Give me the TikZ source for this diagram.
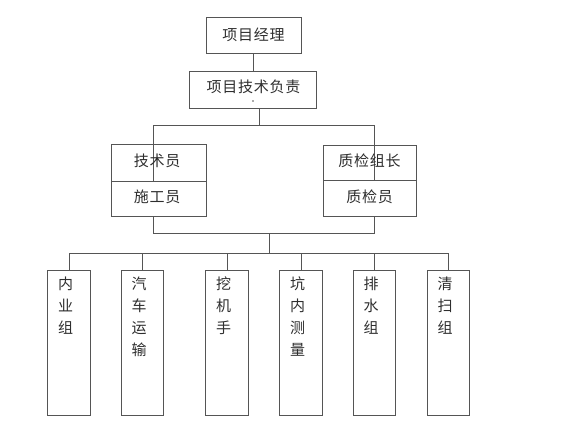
\documentclass[tikz,border=0pt]{standalone}
\usepackage{fontspec}
\setmainfont{Noto Sans CJK SC}[LetterSpace=5]
\definecolor{linec}{HTML}{555555}
\definecolor{textc}{HTML}{2E2E2E}
\tikzset{
  box/.style={draw=linec, line width=0.9pt, inner sep=0pt, fill=white},
  txt/.style={text=textc, inner sep=0pt, font=\fontsize{15}{22}\selectfont},
  vtxt/.style={text=textc, inner sep=0pt, anchor=north, align=center, font=\fontsize{15}{22}\selectfont},
  conn/.style={draw=linec, line width=0.9pt}
}
\begin{document}
\begin{tikzpicture}[x=1pt,y=-1pt]
\useasboundingbox (0,0) rectangle (576,432);
% top boxes
\node[box, minimum width=95, minimum height=36] (pm) at (253.5,35) {};
\node[txt] (pmt) at (253.5,35) {项目经理};
\node[box, minimum width=127, minimum height=37] (tech) at (252.5,89.5) {};
\node[txt] (techt) at (253.5,87) {项目技术负责};
\node[circle, fill=linec, inner sep=0.6pt] (dot) at (253,101) {};
% connectors top
\draw[conn] (pm.south) -- (pm.south |- tech.north);
\coordinate (ta) at (259,108);
\coordinate (j1) at (259,125);
\coordinate (hl) at (153,125);
\coordinate (hr) at (374,125);
\draw[conn] (ta) -- (j1);
\draw[conn] (hl) -- (hr);
% second level boxes
\node[box, minimum width=95, minimum height=37, anchor=north west] (lbt) at (111,144) {};
\node[box, minimum width=95, minimum height=35, anchor=north west] (lbb) at (111,181) {};
\node[box, minimum width=93, minimum height=35, anchor=north west] (rbt) at (323,145) {};
\node[box, minimum width=93, minimum height=36, anchor=north west] (rbb) at (323,180) {};
\draw[conn] (hl) -- (hl |- lbb.north);
\draw[conn] (hr) -- (hr |- rbb.north);
\node[txt] (lbtt) at (157,161) {技术员};
\node[txt] (lbbt) at (157,197) {施工员};
\node[txt] (rbtt) at (369.5,161) {质检组长};
\node[txt] (rbbt) at (369.5,197) {质检员};
% lower connectors
\coordinate (bl) at (153,233);
\coordinate (br) at (374,233);
\coordinate (bm) at (269,233);
\coordinate (cm) at (269,253);
\draw[conn] (bl |- lbb.south) -- (bl) -- (br) -- (br |- rbb.south);
\draw[conn] (bm) -- (cm);
\coordinate (gl) at (69,253);
\coordinate (gr) at (449,253);
\draw[conn] (gl) -- (gr);
% bottom boxes
\foreach \n/\cx/\t in {g1/69/{内\\业\\组}, g2/142.5/{汽\\车\\运\\输}, g3/227/{挖\\机\\手}, g4/301/{坑\\内\\测\\量}, g5/374.5/{排\\水\\组}, g6/448.5/{清\\扫\\组}}{
  \node[box, minimum width=42.5, minimum height=145] (\n) at (\cx,342.5) {};
  \draw[conn] (\n.north) -- (\n.north |- gl);
  \node[vtxt] (\n t) at (\cx-3.5,277) {\t};
}
\end{tikzpicture}
\end{document}
